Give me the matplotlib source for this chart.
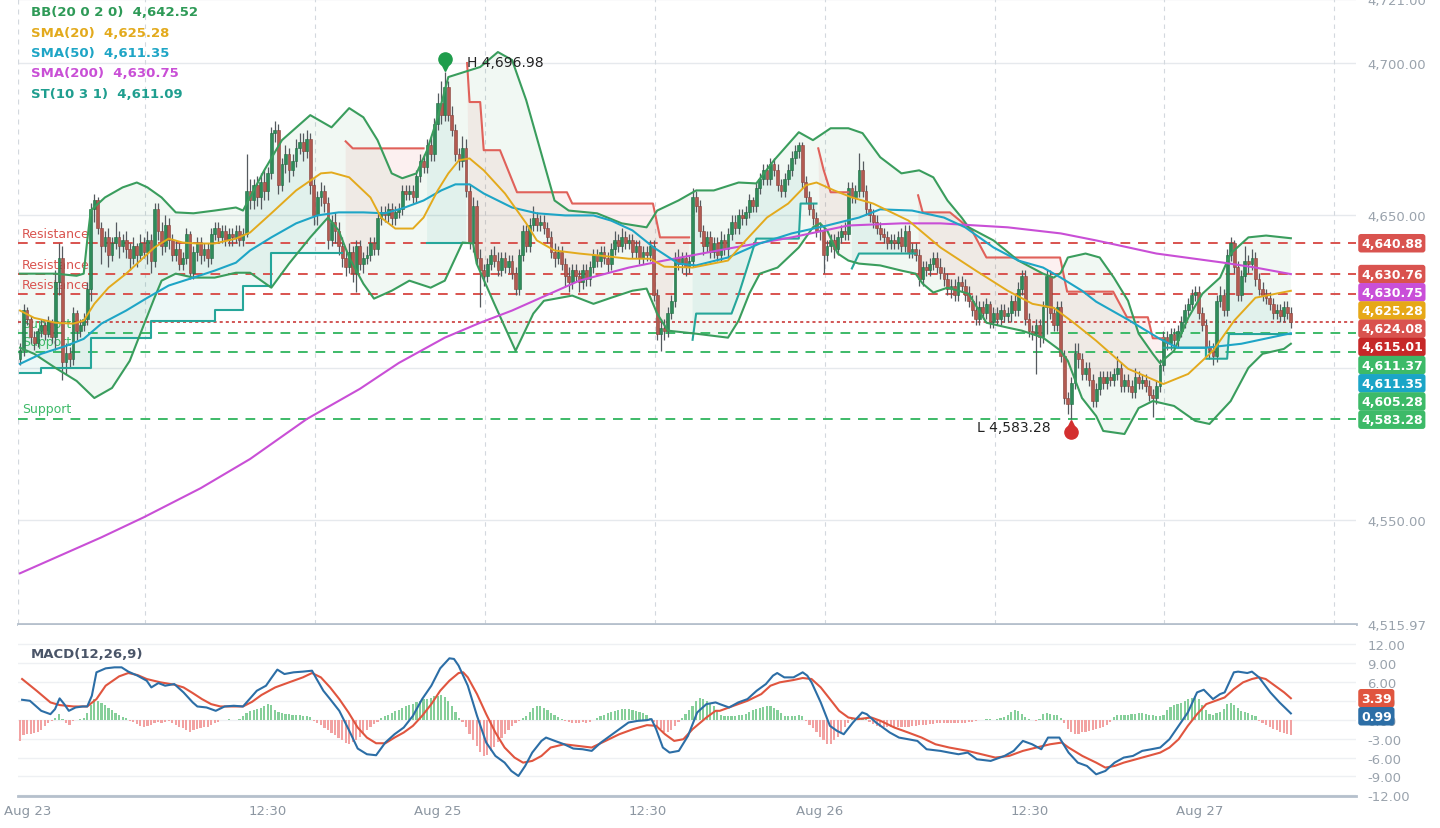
import numpy as np
import matplotlib
matplotlib.use("Agg")
import matplotlib.pyplot as plt
from matplotlib.transforms import blended_transform_factory as btf

# ---------------- candles (15-min, index 0..359) ----------------
opens = [
4603,4606,4619,4616,4610,4608,4612,4614,4611,4615,
4610,4628,4636,4602,4605,4603,4618,4612,4614,4616,
4626,4652,4655,4646,4640,4643,4637,4641,4643,4640,
4642,4639,4636,4640,4637,4641,4638,4642,4635,4652,
4645,4640,4647,4642,4637,4639,4634,4636,4644,4631,
4638,4641,4637,4639,4636,4644,4646,4643,4645,4642,
4644,4643,4645,4642,4644,4658,4655,4660,4656,4661,
4658,4664,4677,4678,4660,4667,4670,4665,4668,4672,
4674,4671,4675,4660,4650,4656,4658,4654,4642,4648,
4645,4640,4636,4633,4638,4631,4640,4634,4636,4637,
4641,4639,4649,4651,4650,4652,4649,4651,4652,4658,
4657,4658,4656,4663,4668,4666,4673,4670,4680,4687,
4683,4692,4683,4678,4670,4668,4672,4658,4641,4653,
4636,4632,4630,4634,4637,4635,4632,4636,4633,4635,
4631,4626,4637,4645,4640,4647,4649,4647,4648,4646,
4643,4638,4636,4638,4634,4630,4628,4632,4630,4628,
4632,4629,4633,4637,4635,4638,4636,4634,4639,4642,
4640,4643,4641,4642,4638,4640,4636,4638,4637,4640,
4624,4611,4613,4612,4618,4622,4636,4634,4636,4633,
4635,4656,4653,4645,4640,4643,4638,4641,4637,4642,
4639,4644,4648,4646,4650,4649,4651,4655,4653,4659,
4662,4665,4662,4667,4665,4660,4658,4662,4665,4669,
4671,4673,4661,4656,4652,4649,4645,4645,4637,4640,
4642,4639,4643,4645,4644,4659,4656,4658,4665,4658,
4652,4650,4648,4646,4644,4643,4641,4642,4641,4643,
4640,4645,4638,4639,4637,4629,4633,4632,4634,4636,
4633,4631,4629,4626,4627,4624,4628,4627,4624,4622,
4619,4616,4620,4618,4621,4615,4618,4616,4619,4617,
4618,4622,4619,4626,4630,4616,4612,4611,4614,4610,
4620,4630,4618,4614,4620,4604,4590,4588,4595,4605,
4603,4598,4600,4596,4589,4593,4597,4595,4597,4596,
4598,4600,4594,4596,4594,4592,4597,4595,4596,4594,
4591,4590,4594,4601,4610,4608,4611,4609,4612,4615,
4619,4621,4624,4625,4618,4614,4607,4606,4604,4622,
4624,4619,4637,4641,4633,4624,4630,4635,4634,4636,
4629,4626,4624,4623,4621,4618,4619,4617,4620,4618]

closes = [
4606,4619,4616,4610,4608,4612,4614,4611,4615,4610,
4628,4636,4602,4605,4603,4618,4612,4614,4616,4626,
4652,4655,4646,4640,4643,4637,4641,4643,4640,4642,
4639,4636,4640,4637,4641,4638,4642,4635,4652,4645,
4640,4647,4642,4637,4639,4634,4636,4644,4631,4638,
4641,4637,4639,4636,4644,4646,4643,4645,4642,4644,
4643,4645,4642,4644,4658,4655,4660,4656,4661,4658,
4664,4677,4678,4660,4667,4670,4665,4668,4672,4674,
4671,4675,4660,4650,4656,4658,4654,4642,4648,4645,
4640,4636,4633,4638,4631,4640,4634,4636,4637,4641,
4639,4649,4651,4650,4652,4649,4651,4652,4658,4657,
4658,4656,4663,4668,4666,4673,4670,4680,4687,4683,
4692,4683,4678,4670,4668,4672,4658,4641,4653,4636,
4632,4630,4634,4637,4635,4632,4636,4633,4635,4631,
4626,4637,4645,4640,4647,4649,4647,4648,4646,4643,
4638,4636,4638,4634,4630,4628,4632,4630,4628,4632,
4629,4633,4637,4635,4638,4636,4634,4639,4642,4640,
4643,4641,4642,4638,4640,4636,4638,4637,4640,4624,
4611,4613,4612,4618,4622,4636,4634,4636,4633,4635,
4656,4653,4645,4640,4643,4638,4641,4637,4642,4639,
4644,4648,4646,4650,4649,4651,4655,4653,4659,4662,
4665,4662,4667,4665,4660,4658,4662,4665,4669,4671,
4673,4661,4656,4652,4649,4645,4645,4637,4640,4642,
4639,4643,4645,4644,4659,4656,4658,4665,4658,4652,
4650,4648,4646,4644,4643,4641,4642,4641,4643,4640,
4645,4638,4639,4637,4629,4633,4632,4634,4636,4633,
4631,4629,4626,4627,4624,4628,4627,4624,4622,4619,
4616,4620,4618,4621,4615,4618,4616,4619,4617,4618,
4622,4619,4626,4630,4616,4612,4611,4614,4610,4620,
4630,4618,4614,4620,4604,4590,4588,4595,4605,4603,
4598,4600,4596,4589,4593,4597,4595,4597,4596,4598,
4600,4594,4596,4594,4592,4597,4595,4596,4594,4591,
4590,4594,4601,4610,4608,4611,4609,4612,4615,4619,
4621,4624,4625,4618,4614,4607,4606,4604,4622,4624,
4619,4637,4641,4633,4624,4630,4635,4634,4636,4629,
4626,4624,4623,4621,4618,4619,4617,4620,4618,4615.01]

highs = [
4608,4621,4620,4617,4612,4613,4616,4615,4617,4616,
4632,4641,4640,4608,4607,4620,4619,4616,4618,4628,
4654,4657,4656,4648,4645,4646,4643,4648,4645,4644,
4645,4641,4643,4641,4644,4643,4645,4644,4654,4654,
4648,4650,4649,4644,4642,4641,4638,4646,4645,4640,
4643,4643,4641,4641,4646,4648,4648,4647,4647,4646,
4646,4647,4647,4646,4670,4662,4662,4663,4664,4665,
4666,4679,4681,4680,4669,4673,4672,4670,4675,4677,
4677,4678,4677,4662,4658,4661,4660,4656,4650,4651,
4648,4643,4639,4641,4640,4642,4642,4638,4640,4643,
4643,4651,4653,4653,4654,4654,4653,4654,4660,4660,
4660,4660,4665,4670,4670,4675,4676,4682,4690,4694,
4696.98,4694,4686,4680,4672,4676,4675,4660,4656,4655,
4639,4634,4636,4639,4640,4638,4638,4638,4637,4637,
4633,4639,4647,4647,4649,4653,4651,4650,4650,4648,
4645,4641,4640,4640,4636,4633,4634,4634,4632,4634,
4634,4635,4639,4639,4640,4640,4638,4641,4645,4644,
4646,4645,4644,4644,4642,4642,4640,4640,4642,4642,
4626,4616,4616,4620,4624,4638,4639,4638,4638,4637,
4659,4658,4655,4647,4645,4645,4643,4643,4645,4644,
4646,4650,4650,4652,4652,4653,4657,4656,4661,4664,
4667,4667,4669,4669,4667,4662,4664,4667,4671,4673,
4674,4674,4663,4658,4654,4651,4648,4647,4642,4644,
4644,4645,4647,4648,4661,4661,4660,4670.4,4668,4660,
4654,4652,4650,4648,4646,4645,4644,4644,4645,4646,
4647,4647,4641,4641,4639,4635,4635,4636,4638,4638,
4636,4633,4631,4629,4629,4630,4630,4629,4627,4624,
4624,4622,4622,4623,4622,4620,4620,4621,4621,4620,
4624,4624,4628,4632,4632,4618,4614,4616,4616,4622,
4632,4632,4620,4622,4622,4606,4592,4597,4608,4608,
4605,4602,4602,4598,4595,4599,4599,4599,4599,4600,
4604,4602,4598,4598,4596,4600,4599,4598,4598,4596,
4593,4596,4603,4612,4612,4613,4613,4614,4617,4621,
4623,4626,4627,4627,4620,4616,4609,4608,4624,4627,
4626,4639,4643,4642,4635,4632,4640,4637,4639,4638,
4631,4628,4626,4625,4623,4621,4621,4622,4622,4620]

lows = [
4601,4604,4614,4608,4606,4607,4610,4609,4610,4608,
4606,4624,4596,4598,4600,4601,4609,4610,4612,4614,
4622,4648,4644,4634,4638,4633,4635,4639,4636,4638,
4636,4632,4634,4633,4635,4636,4634,4631,4633,4642,
4637,4638,4639,4635,4635,4632,4632,4634,4629,4629,
4635,4634,4635,4633,4634,4642,4641,4641,4640,4640,
4640,4641,4640,4640,4643,4652,4652,4653,4652,4655,
4655,4662,4674,4657,4658,4664,4661,4663,4666,4670,
4668,4669,4657,4647,4647,4653,4651,4639,4640,4641,
4637,4633,4630,4631,4628,4625,4632,4631,4634,4635,
4637,4637,4647,4648,4648,4647,4647,4649,4650,4655,
4655,4654,4654,4661,4664,4664,4668,4668,4678,4680,
4681,4681,4676,4668,4665,4666,4656,4639,4638,4634,
4620,4627,4628,4632,4633,4630,4630,4631,4631,4629,
4624,4624,4635,4638,4638,4645,4645,4645,4644,4641,
4636,4633,4634,4632,4627,4625,4626,4628,4625,4626,
4627,4627,4631,4633,4633,4634,4631,4632,4637,4638,
4638,4639,4639,4636,4636,4634,4634,4635,4635,4622,
4609,4605.6,4609,4610,4616,4620,4632,4631,4630,4631,
4633,4651,4643,4637,4638,4636,4636,4635,4635,4637,
4636,4642,4644,4644,4647,4647,4649,4651,4651,4657,
4660,4660,4660,4663,4658,4656,4656,4660,4663,4667,
4669,4659,4654,4650,4647,4643,4642,4631,4635,4638,
4636,4637,4641,4642,4642,4654,4654,4656,4656,4650,
4648,4646,4644,4642,4641,4639,4639,4639,4639,4638,
4638,4636,4636,4635,4627,4627,4630,4630,4632,4631,
4629,4627,4624,4623,4622,4622,4625,4622,4620,4617,
4614,4614,4616,4616,4613,4613,4614,4614,4615,4615,
4615,4617,4617,4624,4614,4610,4609,4598,4607,4608,
4611,4616,4612,4612,4602,4588,4585,4583.28,4593,4600,
4596,4596,4594,4587,4587,4591,4593,4593,4594,4594,
4596,4592,4592,4592,4590,4590,4593,4593,4592,4589,
4584,4588,4592,4599,4606,4606,4607,4607,4610,4613,
4617,4619,4622,4616,4612,4605,4603,4601,4602,4620,
4617,4617,4635,4631,4622,4622,4628,4631,4632,4627,
4624,4622,4621,4619,4616,4616,4615,4615,4616,4613]

# ---------------- overlays: (candle index, value) ----------------
sma20 = [(0,4618.8),(4,4616.4),(10,4614.8),(15,4614.5),(18,4615.5),(21,4621.0),(25,4626.3),(30,4630.9),(34,4635.2),(38,4639.5),
         (42,4642.4),(46,4641.1),(50,4640.8),(55,4640.8),(61,4642.4),(65,4644.4),(71,4650.7),(78,4658.2),(85,4663.8),(88,4664.1),
         (93,4662.5),(99,4655.9),(102,4649.3),(106,4645.7),(111,4645.7),(114,4649.3),(118,4658.2),(121,4663.8),(124,4668.1),(127,4668.7),
         (131,4664.8),(137,4657.2),(143,4647.4),(146,4641.8),(151,4638.5),(158,4637.5),(164,4636.8),(172,4635.8),(178,4635.8),(182,4633.2),
         (190,4632.9),(200,4635.2),(205,4641.8),(211,4649.3),(217,4653.9),(222,4659.9),(225,4660.8),(230,4658.2),(235,4655.9),(241,4653.9),
         (251,4648.3),(260,4639.5),(270,4631.9),(279,4625.3),(286,4621.0),(292,4619.7),(298,4614.5),(304,4608.9),(313,4599.7),(323,4594.7),
         (330,4598.0),(337,4605.6),(343,4615.5),(349,4623.0),(359,4625.28)]

sma50 = [(0,4601.3),(6,4604.6),(13,4607.2),(18,4609.5),(23,4614.5),(30,4618.8),(36,4623.0),(42,4627.0),(49,4629.6),(55,4631.9),
         (61,4634.5),(65,4638.5),(71,4642.8),(78,4647.4),(84,4650.0),(90,4651.0),(97,4651.0),(103,4650.7),(108,4652.3),(114,4654.9),
         (119,4658.2),(123,4660.2),(127,4660.2),(131,4657.2),(139,4652.6),(146,4650.7),(154,4650.0),(162,4650.0),(167,4648.3),(173,4645.1),
         (179,4639.5),(186,4634.2),(191,4633.6),(200,4636.2),(209,4640.8),(218,4644.1),(228,4646.7),(237,4649.3),(243,4652.0),(252,4651.6),
         (261,4649.3),(267,4646.1),(275,4639.5),(282,4635.2),(289,4632.9),(294,4629.6),(300,4625.3),(304,4621.7),(313,4615.8),(322,4609.5),
         (327,4606.6),(335,4606.6),(345,4607.9),(359,4611.35)]

sma200 = [(0,4532.6),(23,4544.4),(35,4551.0),(51,4560.5),(65,4570.1),(81,4583.2),(96,4593.1),(107,4601.6),(120,4609.9),(130,4614.8),
          (139,4618.8),(158,4628.6),(172,4632.9),(182,4635.2),(200,4639.1),(218,4642.8),(234,4646.7),(249,4647.4),(260,4647.4),(279,4646.1),
          (294,4644.1),(304,4641.8),(321,4637.5),(340,4634.5),(349,4632.9),(359,4630.75)]

bb_upper = [(0,4630.9),(4,4630.9),(10,4630.9),(16,4630.2),(18,4630.9),(19,4641.8),(20,4651.6),(24,4655.9),(29,4659.2),(33,4660.8),
            (36,4659.2),(40,4655.9),(44,4651.0),(49,4650.7),(55,4651.6),(61,4652.6),(63,4651.6),(69,4664.8),(74,4674.7),(82,4682.9),
            (88,4678.9),(93,4685.2),(97,4682.2),(101,4674.7),(105,4663.8),(108,4662.2),(112,4663.8),(115,4671.4),(118,4682.2),(121,4695.4),
            (130,4698.7),(135,4703.6),(139,4701.0),(143,4687.8),(147,4671.4),(151,4654.9),(155,4651.6),(163,4650.7),(170,4647.4),(177,4646.1),
            (180,4651.6),(186,4654.9),(191,4658.2),(196,4658.2),(203,4660.8),(208,4660.5),(213,4668.1),(220,4677.3),(224,4674.7),(229,4678.6),
            (234,4678.6),(238,4677.0),(243,4669.1),(249,4663.8),(254,4664.8),(258,4662.5),(262,4654.9),(266,4649.3),(268,4646.1),(275,4641.8),
            (282,4635.2),(289,4630.9),(292,4629.6),(294,4631.2),(296,4636.2),(301,4637.5),(305,4636.2),(309,4629.6),(313,4622.0),(316,4611.2),
            (320,4604.6),(322,4601.6),(326,4605.6),(330,4616.4),(334,4624.3),(339,4629.6),(342,4637.5),(347,4642.8),(352,4643.4),(359,4642.52)]

bb_lower = [(0,4606.6),(4,4604.6),(10,4600.0),(16,4595.7),(21,4590.1),(26,4593.4),(31,4602.3),(34,4611.2),(38,4623.0),(40,4628.6),
            (44,4630.9),(49,4629.6),(55,4629.6),(61,4631.2),(65,4631.2),(71,4626.3),(76,4634.2),(82,4642.8),(87,4649.3),(90,4645.1),
            (93,4636.2),(97,4627.6),(100,4622.7),(105,4625.3),(110,4628.6),(116,4626.3),(120,4628.6),(125,4641.1),(128,4640.8),(129,4634.2),
            (134,4621.0),(140,4605.6),(145,4617.8),(148,4622.0),(156,4623.7),(162,4621.0),(167,4623.0),(173,4625.3),(177,4626.0),(180,4617.8),
            (183,4612.2),(191,4611.2),(200,4609.9),(203,4615.5),(206,4624.3),(209,4630.9),(214,4632.9),(220,4639.5),(224,4646.1),(226,4647.4),
            (228,4645.1),(231,4637.5),(234,4635.2),(237,4634.2),(243,4633.6),(249,4631.9),(253,4630.9),(255,4627.6),(258,4624.7),(262,4626.3),
            (268,4624.3),(273,4614.8),(279,4613.2),(283,4612.2),(289,4609.9),(294,4605.6),(296,4602.3),(300,4590.1),(304,4584.2),(306,4579.3),
            (312,4578.3),(316,4586.8),(320,4589.1),(326,4587.5),(332,4582.6),(336,4581.6),(342,4589.1),(347,4600.0),(351,4604.6),(357,4606.2),
            (359,4607.9)]

# SuperTrend(10,3,1): uptrend (support) and downtrend (resistance) legs
st_up_legs = [
    [(0,4598.3),(6,4598.3),(6,4600.0),(20,4600.0),(20,4609.9),(37,4609.9),(37,4615.5),(55,4615.5),(55,4619.1),(63,4619.1),(63,4627.0),(71,4627.0),(71,4637.8),(91,4637.8)],
    [(115,4640.9),(126,4640.9)],
    [(190,4609.2),(191,4617.8),(201,4617.8),(203,4624.0),(208,4642.4),(220,4642.4),(220.5,4653.9),(225,4653.9)],
    [(235,4632.6),(237,4637.5),(253,4637.5)],
    [(323,4606.6),(335,4606.6),(335,4603.0),(341,4603.0),(341.5,4611.09),(359,4611.09)],
]
st_dn_legs = [
    [(92,4674.3),(94,4672.0),(114,4672.0)],
    [(126.3,4700.0),(127,4687.2),(130,4687.2),(131,4671.4),(135.6,4671.4),(140.4,4657.6),(154.5,4657.6),(156,4653.9),(178.8,4653.9),(180.8,4642.8),(189,4642.8)],
    [(225.5,4672.0),(227,4665.0),(229,4657.6),(234,4657.6)],
    [(253.7,4656.6),(255,4651.0),(262.7,4651.0),(268.9,4645.1),(273,4636.2),(293.8,4636.2),(295.8,4625.0),(308.8,4625.0),(312.7,4616.6),(318.6,4616.6),(320,4609.7),(323,4609.7)],
]

resistance_levels = [4640.88, 4630.76, 4624.08]
support_levels = [4611.37, 4605.28, 4583.28]

# ---------------- MACD(12,26,9) ----------------
macd_line = [(0.6,3.15),(2.8,2.99),(6.0,1.40),(8.6,0.87),(9.9,1.67),(11.2,3.37),(12.5,2.46),(13.8,1.40),(15.7,1.93),(17.7,2.09),
             (19.0,2.09),(20.3,3.79),(21.6,7.50),(24.2,8.13),(26.7,8.29),(28.7,8.29),(30.6,7.61),(33.2,6.97),(35.8,6.17),(37.1,5.11),
             (39.1,5.80),(41.0,5.38),(43.6,5.64),(46.2,4.32),(48.8,2.73),(50.1,2.09),(52.7,1.93),(55.3,1.40),(57.8,2.09),(60.4,2.20),
             (63.0,2.09),(65.0,3.37),(66.9,4.58),(69.5,5.38),(70.8,6.44),(72.7,7.93),(74.7,7.23),(77.3,7.50),(79.9,7.61),(82.5,7.76),
             (83.8,6.44),(85.7,4.58),(87.6,3.26),(90.2,1.40),(92.8,-1.51),(95.4,-4.58),(98.0,-5.48),(100.6,-5.64),(103.2,-3.63),(105.8,-2.31),
             (108.4,-1.25),(111.0,0.61),(113.6,3.26),(116.2,5.38),(118.7,8.13),(121.3,9.72),(122.6,9.62),(123.9,8.56),(126.5,5.38),(129.1,0.61),
             (131.7,-3.63),(134.3,-5.75),(136.9,-6.81),(138.8,-8.13),(140.8,-8.93),(142.7,-7.34),(144.7,-5.22),(147.3,-3.37),(148.6,-2.84),(151.1,-3.37),
             (153.7,-3.90),(156.3,-4.58),(158.9,-4.69),(161.5,-4.95),(164.1,-3.63),(166.7,-2.57),(169.3,-1.51),(171.9,-0.45),(174.5,-0.19),(177.1,-0.08),
             (178.4,0.08),(179.7,-1.51),(181.6,-4.42),(183.5,-5.22),(186.1,-4.95),(188.7,-2.57),(191.3,1.14),(193.9,2.46),(196.5,2.73),(197.7,2.46),
             (200.3,1.93),(202.9,2.73),(205.5,3.26),(208.1,4.58),(210.7,5.64),(212.7,6.97),(213.9,7.39),(215.9,6.70),(218.5,6.70),(221.1,7.50),
             (222.4,6.97),(223.6,5.91),(226.2,2.73),(228.8,-0.98),(230.8,-1.78),(232.7,-2.31),(235.3,-0.45),(237.9,1.14),(239.2,0.87),(241.8,-0.45),
             (245.7,-2.04),(248.3,-2.84),(250.9,-3.10),(253.5,-3.37),(256.1,-4.69),(260.0,-4.95),(262.5,-5.22),(265.1,-5.48),(267.7,-5.22),(270.3,-6.28),
             (274.2,-6.54),(278.1,-5.75),(280.7,-4.95),(283.3,-3.37),(285.9,-3.90),(288.5,-4.69),(290.4,-2.84),(293.6,-2.84),(296.2,-5.22),(298.8,-6.81),
             (301.4,-7.34),(304.0,-8.66),(306.6,-8.13),(309.2,-6.81),(311.8,-6.01),(314.4,-5.75),(317.0,-4.95),(319.6,-4.69),(322.1,-4.42),(324.7,-3.10),
             (327.3,-0.98),(329.9,1.14),(332.5,4.32),(334.4,4.74),(337.0,3.26),(339.0,4.05),(340.3,4.32),(342.9,7.50),(344.1,7.61),(346.7,7.39),
             (348.0,7.61),(350.0,6.70),(353.2,4.32),(355.8,2.73),(359,0.99)]

signal_line = [(0.6,6.44),(4.7,4.58),(8.6,2.73),(11.2,2.31),(15.1,2.09),(19.0,2.09),(21.6,3.26),(24.2,5.38),(28.0,6.86),(30.6,7.39),
               (33.2,7.07),(35.8,6.44),(39.7,5.91),(43.6,5.54),(46.2,5.11),(48.8,4.21),(51.4,3.26),(54.0,2.46),(56.6,2.09),(60.4,2.09),
               (63.0,2.09),(65.6,2.84),(68.2,3.90),(72.1,5.11),(76.0,5.91),(79.9,6.70),(82.5,7.39),(85.0,6.70),(87.6,5.11),(90.2,3.26),
               (92.8,1.14),(95.4,-1.25),(98.0,-2.84),(100.6,-3.74),(103.2,-3.74),(105.8,-2.84),(108.4,-2.04),(111.0,-0.98),(113.6,0.61),(116.2,2.46),
               (118.7,4.58),(121.3,6.17),(123.9,7.39),(125.2,7.50),(126.5,6.70),(129.1,4.05),(131.7,0.87),(134.3,-2.04),(136.9,-4.42),(139.7,-6.01),
               (142.1,-6.81),(144.7,-6.54),(147.3,-5.75),(149.9,-4.42),(153.7,-3.90),(157.6,-4.16),(161.5,-4.42),(165.4,-3.37),(169.3,-2.31),(173.2,-1.51),
               (177.1,-0.87),(179.7,-0.98),(182.2,-2.31),(184.8,-3.37),(187.4,-3.10),(190.0,-1.51),(193.9,0.34),(196.5,1.40),(197.7,1.40),(201.6,2.20),
               (205.5,2.99),(209.4,4.05),(212.0,5.38),(214.6,5.91),(218.5,6.28),(221.1,6.60),(223.6,6.44),(226.2,5.11),(228.8,3.26),(231.4,1.40),
               (234.0,0.34),(236.6,0.08),(240.5,0.34),(243.1,-0.19),(247.0,-1.25),(250.9,-2.04),(254.7,-2.84),(258.6,-3.90),(262.5,-4.42),(267.7,-4.95),
               (271.6,-5.48),(275.5,-6.01),(279.4,-5.75),(283.3,-4.95),(287.1,-4.42),(291.0,-3.90),(294.3,-3.63),(296.2,-4.42),(300.1,-5.75),(304.0,-6.81),
               (306.6,-7.60),(309.2,-7.34),(311.8,-6.81),(317.0,-6.01),(322.1,-5.22),(324.7,-4.42),(327.3,-3.10),(329.9,-0.98),(332.5,0.87),(335.1,2.46),
               (337.7,2.99),(340.3,3.52),(342.9,4.85),(345.5,5.91),(348.0,6.44),(350.0,6.70),(351.9,6.44),(354.5,5.38),(357.1,4.32),(359,3.39)]

macd_hist = [
-3.4,-2.5,-2.3,-2.3,-2.1,-2.0,-1.6,-1.0,-0.6,-0.2,
0.2,0.9,0.1,-0.5,-0.8,-0.2,-0.1,0.1,0.3,1.0,
2.4,3.2,3.0,2.7,2.3,1.9,1.5,1.1,0.7,0.4,
0.2,-0.2,-0.4,-0.7,-1.0,-1.2,-1.0,-0.8,-0.5,-0.4,
-0.6,-0.4,-0.2,-0.5,-0.9,-1.1,-1.3,-1.7,-2.0,-1.7,
-1.5,-1.4,-1.2,-1.1,-0.9,-0.6,-0.3,-0.1,0.0,0.1,
-0.1,0.0,0.1,0.5,1.1,1.3,1.5,1.7,1.9,2.1,
2.5,2.3,1.6,1.2,1.0,0.9,0.9,0.8,0.8,0.7,
0.6,0.6,0.4,-0.2,-0.5,-0.9,-1.3,-1.7,-2.1,-2.5,
-2.9,-3.3,-3.7,-3.9,-3.6,-3.2,-2.7,-2.2,-1.7,-1.2,
-0.7,-0.3,0.3,0.6,0.8,1.0,1.3,1.6,1.8,2.1,
2.3,2.5,2.8,3.0,3.2,3.3,3.5,3.7,3.8,3.9,
3.6,3.0,2.1,1.2,0.3,-0.4,-1.2,-2.2,-3.2,-4.2,
-5.2,-5.8,-5.6,-5.0,-4.3,-3.6,-2.9,-2.2,-1.6,-1.0,
-0.5,-0.2,0.2,0.6,1.2,1.8,2.1,2.2,1.9,1.5,
1.1,0.7,0.4,0.1,-0.2,-0.4,-0.5,-0.5,-0.5,-0.4,
-0.5,-0.3,-0.1,0.3,0.6,0.8,1.0,1.2,1.4,1.6,
1.7,1.7,1.7,1.6,1.4,1.2,1.0,0.7,0.3,-0.4,
-1.0,-1.5,-1.9,-2.0,-1.6,-1.0,-0.4,0.3,0.9,1.6,
2.2,2.9,3.4,3.2,3.0,2.6,2.2,1.4,0.8,0.6,
0.5,0.5,0.6,0.7,0.7,0.9,1.2,1.5,1.7,1.9,
2.0,2.1,2.1,1.9,1.5,1.0,0.6,0.5,0.5,0.6,
0.7,0.5,-0.2,-0.8,-1.4,-2.0,-2.7,-3.3,-3.8,-3.9,
-3.3,-2.7,-2.0,-1.2,-0.5,0.1,0.3,0.4,0.3,0.1,
-0.3,-0.7,-1.0,-1.1,-1.2,-1.2,-1.2,-1.1,-1.2,-1.2,
-1.2,-1.1,-1.0,-1.0,-0.9,-0.9,-0.8,-0.7,-0.7,-0.6,
-0.6,-0.5,-0.5,-0.6,-0.6,-0.5,-0.5,-0.5,-0.4,-0.3,
-0.2,-0.1,0.0,0.1,0.1,0.0,0.1,0.2,0.4,0.8,
1.2,1.6,1.4,0.9,0.4,0.1,-0.1,-0.2,0.1,0.9,
1.0,0.9,0.8,0.8,0.3,-0.6,-1.5,-2.0,-2.3,-2.2,
-2.0,-1.9,-1.8,-1.6,-1.5,-1.4,-1.2,-0.8,-0.3,0.4,
0.7,0.7,0.8,0.8,0.9,0.9,1.0,1.0,0.9,0.8,
0.7,0.6,0.6,0.8,1.5,2.0,2.3,2.5,2.7,2.9,
3.2,3.4,3.7,3.2,2.4,1.6,0.9,0.8,1.0,1.2,
1.7,2.5,2.7,2.3,1.8,1.4,1.2,1.0,0.8,0.5,
-0.2,-0.6,-0.9,-1.2,-1.5,-1.7,-1.9,-2.1,-2.2,-2.4]

x_tick_pos = [2.3, 70, 118, 177.4, 226, 285.3, 333.3]
x_tick_labels = ["Aug 23", "12:30", "Aug 25", "12:30", "Aug 26", "12:30", "Aug 27"]
price_ticks = [4515.97, 4550, 4600, 4650, 4700, 4721]
macd_ticks = [-12, -9, -6, -3, 0, 3, 6, 9, 12]

# ---------------- colours ----------------
C_UP, C_UP_E = "#2f8c5a", "#1f6a41"
C_DN, C_DN_E = "#b35a51", "#874039"
C_WICK = "#555a5f"
C_BB = "#3a9d5d"
C_S20 = "#e3aa1d"
C_S50 = "#1ea5c6"
C_S200 = "#c94fd6"
C_STU = "#26a69a"
C_STD = "#e0615a"
C_RES = "#d9534f"
C_SUP = "#3dba68"
C_LAST = "#c62828"
C_MACD = "#2c6ea6"
C_SIG = "#e0553f"
C_TXT = "#9aa3ad"

W, H = 1440, 829
fig = plt.figure(figsize=(W / 100, H / 100), dpi=100)
fig.patch.set_facecolor("white")
L_PX, R_PX = 18, 1356
ax = fig.add_axes([L_PX / W, 1 - 625 / H, (R_PX - L_PX) / W, 625 / H])
axm = fig.add_axes([L_PX / W, 1 - 797 / H, (R_PX - L_PX) / W, (797 - 626) / H], sharex=ax)

XL = (-0.56, 377.4)
YL = (4515.97, 4721.0)
ax.set_xlim(*XL)
ax.set_ylim(*YL)
axm.set_ylim(-12.1, 15.0)

n = len(closes)
idx = np.arange(n)
o = np.array(opens, float)
c = np.array(closes, float)
hi = np.array(highs, float)
lo = np.array(lows, float)

# grid
for g in np.arange(35.3, XL[1], 48):
    ax.axvline(g, color="#d3d8de", lw=0.8, ls=(0, (4, 4)), zorder=0.5)
ax.axvline(XL[0] + 0.05, color="#d3d8de", lw=0.9, ls=(0, (4, 4)), zorder=0.5)
for t in price_ticks[1:]:
    ax.axhline(t, color="#e6e9ed", lw=1.0, zorder=0.4)

def xs_ys(pairs):
    return [p[0] for p in pairs], [p[1] for p in pairs]

# Bollinger fill
ux, uy = xs_ys(bb_upper)
lx, ly = xs_ys(bb_lower)
ax.fill(ux + lx[::-1], uy + ly[::-1], color=C_BB, alpha=0.07, lw=0, zorder=1)

# SuperTrend fills & lines
def st_poly(leg):
    xs, ys = xs_ys(leg)
    i0 = int(np.ceil(xs[0])); i1 = int(np.floor(xs[-1]))
    back = list(range(i1, i0 - 1, -1))
    return xs + back, ys + [closes[k] for k in back]

for leg in st_up_legs:
    px, py = st_poly(leg)
    ax.fill(px, py, color=C_STU, alpha=0.08, lw=0, zorder=1.1)
    x_, y_ = xs_ys(leg)
    ax.plot(x_, y_, color=C_STU, lw=1.5, zorder=6)
for leg in st_dn_legs:
    px, py = st_poly(leg)
    ax.fill(px, py, color=C_STD, alpha=0.09, lw=0, zorder=1.1)
    x_, y_ = xs_ys(leg)
    ax.plot(x_, y_, color=C_STD, lw=1.5, zorder=6)

# support / resistance
tr_ay = btf(ax.transAxes, ax.transData)
for lv in resistance_levels:
    ax.axhline(lv, color=C_RES, lw=1.4, ls=(0, (5, 4)), zorder=3)
    ax.text(4 / 1338, lv + 1.1, "Resistance", transform=tr_ay, color=C_RES,
            fontsize=9, ha="left", va="bottom", zorder=3.5)
for lv in support_levels:
    ax.axhline(lv, color=C_SUP, lw=1.4, ls=(0, (5, 4)), zorder=3)
    ax.text(4 / 1338, lv + 1.1, "Support", transform=tr_ay, color=C_SUP,
            fontsize=9, ha="left", va="bottom", zorder=3.5)
ax.axhline(c[-1], color=C_LAST, lw=1.1, ls=(0, (2, 2)), zorder=3)

# candles
ax.vlines(idx, lo, hi, color=C_WICK, lw=0.9, zorder=4)
body_lo = np.minimum(o, c)
body_h = np.maximum(np.abs(c - o), 0.3)
up = c >= o
ax.bar(idx[up], body_h[up], bottom=body_lo[up], width=0.78, color=C_UP,
       edgecolor=C_UP_E, lw=0.4, zorder=5)
ax.bar(idx[~up], body_h[~up], bottom=body_lo[~up], width=0.78, color=C_DN,
       edgecolor=C_DN_E, lw=0.4, zorder=5)

# moving averages & bands
ax.plot(ux, uy, color=C_BB, lw=1.5, zorder=6)
ax.plot(lx, ly, color=C_BB, lw=1.5, zorder=6)
ax.plot(*xs_ys(sma200), color=C_S200, lw=1.5, zorder=6)
ax.plot(*xs_ys(sma50), color=C_S50, lw=1.5, zorder=6.2)
ax.plot(*xs_ys(sma20), color=C_S20, lw=1.4, zorder=6.3)

# high / low markers
ih = int(np.argmax(hi)); il = int(np.argmin(lo))
ax.plot([ih], [hi[ih] + 1.6], marker="v", ms=6, color="#1f9d4c", zorder=9, clip_on=False)
ax.plot([ih], [hi[ih] + 4.2], marker="o", ms=9.5, color="#1f9d4c", zorder=9, clip_on=False)
ax.text(ih + 6.2, hi[ih] + 3.3, f"H {hi[ih]:,.2f}", fontsize=10, color="#222222",
        ha="left", va="center", zorder=9)
ax.plot([il], [lo[il] - 1.6], marker="^", ms=6, color="#d32f2f", zorder=9)
ax.plot([il], [lo[il] - 4.2], marker="o", ms=9.5, color="#d32f2f", zorder=9)
ax.text(il - 6.0, lo[il] - 2.7, f"L {lo[il]:,.2f}", fontsize=10, color="#222222",
        ha="right", va="center", zorder=9)

# legend (top-left)
legend_items = [("BB(20 0 2 0)", bb_upper[-1][1], "#2e9a57"),
                ("SMA(20)", sma20[-1][1], C_S20),
                ("SMA(50)", sma50[-1][1], C_S50),
                ("SMA(200)", sma200[-1][1], C_S200),
                ("ST(10 3 1)", st_up_legs[-1][-1][1], "#1f9e8f")]
for k, (name, val, col) in enumerate(legend_items):
    ax.text((31 - L_PX) / 1338, 1 - (13 + 20.3 * k) / 625, f"{name}  {val:,.2f}",
            transform=ax.transAxes, color=col, fontsize=9.5, fontweight="bold",
            ha="left", va="center", zorder=10)

# axis styling main
for s in ["top", "left", "right"]:
    ax.spines[s].set_visible(False)
ax.spines["bottom"].set_color("#b5c0cc")
ax.spines["bottom"].set_linewidth(2)
ax.yaxis.tick_right()
ax.set_yticks(price_ticks)
ax.set_yticklabels([f"{t:,.2f}" for t in price_ticks])
ax.tick_params(axis="y", length=0, pad=8, labelsize=9.5, labelcolor=C_TXT)
ax.tick_params(axis="x", length=0, labelbottom=False)

# right-side value tags (stacked)
ppu = 625 / (YL[1] - YL[0])
gap = 18.2 / ppu
tags = [(lv, C_RES) for lv in resistance_levels] + [(lv, C_SUP) for lv in support_levels]
tags += [(sma200[-1][1], "#c94fd8"), (sma20[-1][1], "#e6a817"), (c[-1], C_LAST), (sma50[-1][1], "#1ba5c7")]
tags.sort(key=lambda t: -t[0])
prev = 1e9
for val, col in tags:
    y = min(val, prev - gap)
    prev = y
    ax.text(1.0 + 5 / 1338, y, f"{val:,.2f}", transform=tr_ay, color="white",
            fontsize=9, fontweight="bold", ha="left", va="center", clip_on=False, zorder=20,
            bbox=dict(boxstyle="round,pad=0.22", fc=col, ec="none"))

# ---------------- MACD panel ----------------
hv = np.array(macd_hist, float)
hi_idx = np.arange(len(hv))
axm.bar(hi_idx, hv, width=0.62, color=np.where(hv >= 0, "#86cf9a", "#f2a2a2"), lw=0, zorder=2)
axm.plot(*xs_ys(macd_line), color=C_MACD, lw=1.5, zorder=4)
axm.plot(*xs_ys(signal_line), color=C_SIG, lw=1.5, zorder=3.5)
for t in macd_ticks:
    axm.axhline(t, color="#eef0f3", lw=1.0, zorder=0.5)
for s in ["top", "left", "right"]:
    axm.spines[s].set_visible(False)
axm.spines["bottom"].set_color("#b5c0cc")
axm.spines["bottom"].set_linewidth(2)
axm.yaxis.tick_right()
axm.set_yticks(macd_ticks)
axm.set_yticklabels([f"{t:.2f}" for t in macd_ticks])
axm.tick_params(axis="y", length=0, pad=8, labelsize=9.5, labelcolor=C_TXT)
axm.set_xticks(x_tick_pos)
axm.set_xticklabels(x_tick_labels)
axm.tick_params(axis="x", length=0, pad=6, labelsize=9.5, labelcolor="#8c96a1")
axm.set_xlim(*XL)
axm.text((31 - L_PX) / 1338, 1 - (655 - 626) / 171, "MACD(12,26,9)", transform=axm.transAxes,
         fontsize=9.5, fontweight="bold", color="#4a5568", ha="left", va="center", zorder=10)

tr_my = btf(axm.transAxes, axm.transData)
mppu = 171 / (15.0 + 12.1)
mgap = 18.0 / mppu
mtags = sorted([(signal_line[-1][1], C_SIG), (macd_line[-1][1], C_MACD)], key=lambda t: -t[0])
prev = 1e9
for val, col in mtags:
    y = min(val, prev - mgap)
    prev = y
    axm.text(1.0 + 5 / 1338, y, f"{val:.2f}", transform=tr_my, color="white",
             fontsize=9, fontweight="bold", ha="left", va="center", clip_on=False, zorder=20,
             bbox=dict(boxstyle="round,pad=0.22", fc=col, ec="none"))

fig.savefig("out.png", dpi=100, facecolor="white")
